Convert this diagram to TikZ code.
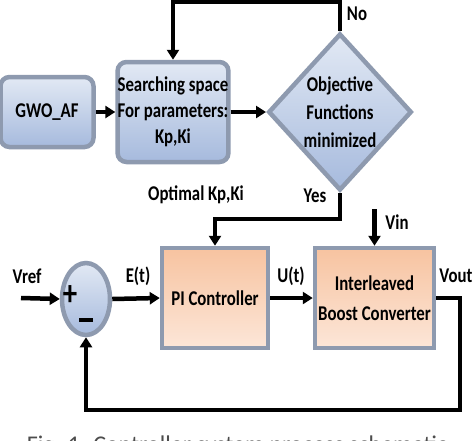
\documentclass[tikz,border=0pt]{standalone}
\usepackage{fontspec}
\setmainfont{Carlito}[FakeStretch=0.8]
\newfontfamily\captionfont{Carlito}
\usetikzlibrary{shapes.geometric,positioning,arrows.meta}
\definecolor{bluetop}{HTML}{E2E9F4}
\definecolor{bluebot}{HTML}{A6BADD}
\definecolor{orangetop}{HTML}{F7C3A0}
\definecolor{orangebot}{HTML}{FCE6D8}
\definecolor{edgegray}{HTML}{8E9AAF}
\tikzset {
search/.style={shape=rectangle,rounded corners=9pt,draw=edgegray,top color=bluetop,bottom color=bluebot,align=center,inner sep=0pt},
decision/.style={shape=diamond,draw=edgegray,top color=bluetop,bottom color=bluebot,align=center,inner sep=0pt},
plant/.style={shape=rectangle,draw=edgegray,top color=orangetop,bottom color=orangebot,align=center,inner sep=0pt},
summer/.style={shape=ellipse,draw=edgegray,top color=bluetop,bottom color=bluebot,inner sep=0pt},
lbl/.style={inner sep=0pt}
}

\begin{document}
\begin{tikzpicture}
[x=1pt,y=-1pt,>={Triangle[length=10pt,width=12pt]},line width=4.5pt,
 font=\fontsize{21}{26}\selectfont\bfseries]
\clip (0,0) rectangle (474,440);
% optimisation loop
\node[search,minimum width=93pt,minimum height=70pt] (gwo) at (47,112) {GWO\_AF};
\node[search,minimum width=106pt,minimum height=100pt] (space) at (173,112) {Searching space\\For parameters:\\Kp,Ki};
\node[decision,minimum width=135pt,minimum height=157pt,font=\fontsize{21}{28}\selectfont\bfseries] (objective) at (340,112) {Objective\\Functions\\minimized};
\coordinate (no) at (340,2);
\coordinate (yes) at (340,219);
\node[lbl] (no label) at (357,14) {No};
\node[lbl] (yes label) at (315,196) {Yes};
\node[lbl] (optimal) at (196,195) {Optimal Kp,Ki};

% control loop
\node[summer,minimum width=48pt,minimum height=72pt] (sum) at (86,299) {};
\node[lbl,font=\fontsize{36}{36}\selectfont\bfseries] (plus) at (70,296) {+};
\node[lbl] (minus) at (86,320) {\rule{14pt}{4pt}};
\node[plant,minimum width=106pt,minimum height=100pt] (pi) at (215,298) {PI Controller};
\node[plant,minimum width=119pt,minimum height=100pt,font=\fontsize{21}{30}\selectfont\bfseries] (ibc) at (374.5,298) {Interleaved\\Boost Converter};
\coordinate (vref) at (21,298);
\coordinate (vin) at (374.5,209);
\coordinate (fb) at (460,410);
\node[lbl] (vref label) at (27,276) {Vref};
\node[lbl] (e label) at (138,276) {E(t)};
\node[lbl] (u label) at (291,276) {U(t)};
\node[lbl] (vin label) at (397,222) {Vin};
\node[lbl] (vout label) at (456,276) {Vout};

\node[anchor=base,font=\captionfont\fontsize{24}{24}\selectfont,text=black!70] (caption) at (237,452) {Fig. 1. Controller system process schematic};

\draw[->] (gwo) -- (space);
\draw[->] (space) -- (objective);
\draw[->] (objective.north) -- (no) -| (space.north);
\draw[->] (objective.south) -- (yes) -| (pi.north);
\draw[->] (vref) -- (sum.west);
\draw[->] (sum.east) -- (pi.west);
\draw[->] (pi.east) -- (ibc.west);
\draw[->] (vin) -- (ibc.north);
\draw[->] (ibc.east) -| (fb) -| (sum.south);
\end{tikzpicture}
\end{document}
